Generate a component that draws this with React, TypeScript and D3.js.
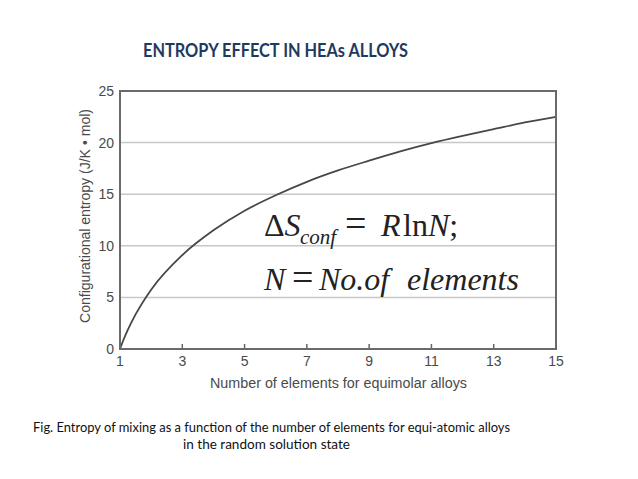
import * as d3 from 'd3';

// values (N, entropy in J/K·mol)
const elementCounts = [1, 1.1, 1.25, 1.5, 2, 3, 4, 5, 6, 7, 8, 9, 10, 11, 12, 13, 14, 15];
const entropyValues = [0, 0.8, 1.85, 3.35, 5.75, 9.1, 11.5, 13.4, 14.9, 16.2, 17.3, 18.25, 19.15, 19.95, 20.65, 21.3, 21.95, 22.5];
const xTicks = [1, 3, 5, 7, 9, 11, 13, 15];
const yTicks = [0, 5, 10, 15, 20, 25];

const plot = { left: 120, right: 556, top: 91, bottom: 349 };

export default function App() {
  const x = d3.scaleLinear().domain([1, 15]).range([plot.left, plot.right]);
  const y = d3.scaleLinear().domain([0, 25]).range([plot.bottom, plot.top]);

  const points: [number, number][] = elementCounts.map((n, i) => [n, entropyValues[i]]);
  const line = d3
    .line<[number, number]>()
    .x((d) => x(d[0]))
    .y((d) => y(d[1]))
    .curve(d3.curveMonotoneX);

  const sans = 'Arial, "Liberation Sans", sans-serif';
  const calibri = 'Lato, "Open Sans", sans-serif';
  const times = '"Liberation Serif", "DejaVu Serif", serif';

  return (
    <svg width={638} height={479} style={{ position: 'absolute', left: 0, top: 0 }}>
      <rect x={0} y={0} width={638} height={479} fill="#fff" />

      {/* Title */}
      <text
        x={143}
        y={57}
        fontFamily={calibri}
        fontWeight="bold"
        fontSize={18}
        fill="#1f3a5f"
        textLength={265}
        lengthAdjust="spacingAndGlyphs"
      >
        ENTROPY EFFECT IN HEAs ALLOYS
      </text>

      {/* grid lines */}
      {yTicks
        .filter((t) => t > 0 && t < 25)
        .map((t) => (
          <line
            key={'g' + t}
            x1={plot.left}
            x2={plot.right}
            y1={y(t)}
            y2={y(t)}
            stroke="#c8c8c8"
            strokeWidth={1.5}
          />
        ))}

      {/* x ticks */}
      {xTicks.slice(1, -1).map((t) => (
        <line
          key={'xt' + t}
          x1={x(t)}
          x2={x(t)}
          y1={plot.bottom}
          y2={plot.bottom - 5}
          stroke="#666"
          strokeWidth={1.5}
        />
      ))}

      {/* curve */}
      <path d={line(points) || ''} fill="none" stroke="#474747" strokeWidth={1.8} />

      {/* frame */}
      <rect
        x={plot.left}
        y={plot.top}
        width={plot.right - plot.left}
        height={plot.bottom - plot.top}
        fill="none"
        stroke="#6a6a6a"
        strokeWidth={2}
      />

      {/* tick labels */}
      {xTicks.map((t) => (
        <text
          key={'xl' + t}
          x={x(t)}
          y={366}
          textAnchor="middle"
          fontFamily={sans}
          fontSize={14}
          fill="#4a4a4a"
        >
          {t}
        </text>
      ))}
      {yTicks.map((t) => (
        <text
          key={'yl' + t}
          x={114}
          y={y(t)}
          dy="0.36em"
          textAnchor="end"
          fontFamily={sans}
          fontSize={14}
          fill="#4a4a4a"
        >
          {t}
        </text>
      ))}

      {/* axis titles */}
      <text
        x={210}
        y={388}
        fontFamily={sans}
        fontSize={14}
        fill="#4a4a4a"
        textLength={257}
        lengthAdjust="spacingAndGlyphs"
      >
        Number of elements for equimolar alloys
      </text>
      <text
        transform="translate(90,323) rotate(-90)"
        fontFamily={sans}
        fontSize={14}
        fill="#4a4a4a"
        textLength={214}
        lengthAdjust="spacingAndGlyphs"
      >
        Configurational entropy (J/K • mol)
      </text>

      {/* equation */}
      <text y={236} fontFamily={times} fontSize={32} fill="#222">
        <tspan x={264}>Δ</tspan>
        <tspan fontStyle="italic">S</tspan>
        <tspan x={300} y={244} fontStyle="italic" fontSize={21}>conf</tspan>
        <tspan x={345} y={236} fontSize={38}>=</tspan>
        <tspan x={381} fontStyle="italic">R</tspan>
        <tspan x={403}>ln</tspan>
        <tspan x={428} fontStyle="italic">N</tspan>
        <tspan>;</tspan>
      </text>
      <text y={290} fontFamily={times} fontSize={32} fill="#222">
        <tspan x={264} fontStyle="italic">N</tspan>
        <tspan x={292} fontSize={38}>=</tspan>
        <tspan x={319} fontStyle="italic">No.of</tspan>
        <tspan x={407} fontStyle="italic">elements</tspan>
      </text>

      {/* caption */}
      <text
        x={33}
        y={432}
        fontFamily={calibri}
        fontSize={14}
        fill="#111"
        textLength={477}
        lengthAdjust="spacingAndGlyphs"
      >
        Fig. Entropy of mixing as a function of the number of elements for equi-atomic alloys
      </text>
      <text
        x={183}
        y={449}
        fontFamily={calibri}
        fontSize={14}
        fill="#111"
        textLength={167}
        lengthAdjust="spacingAndGlyphs"
      >
        in the random solution state
      </text>
    </svg>
  );
}
